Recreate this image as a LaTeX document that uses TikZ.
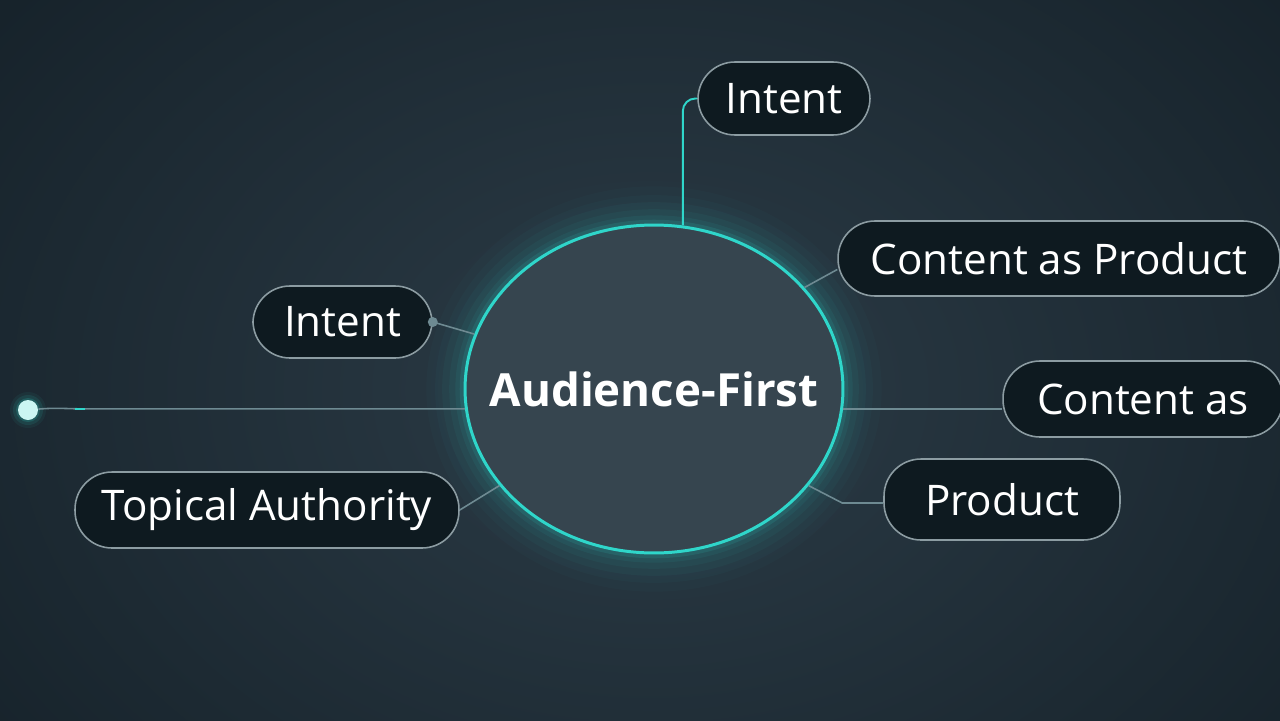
\documentclass[tikz,border=0pt]{standalone}
\usepackage{fontspec}
\setmainfont{Open Sans}
\usetikzlibrary{shapes.geometric}

\definecolor{bgdark}{HTML}{16222A}
\definecolor{bglight}{HTML}{2C3C47}
\definecolor{hubfill}{HTML}{36454F}
\definecolor{hubline}{HTML}{2FD6CA}
\definecolor{pillfill}{HTML}{0E1A20}
\definecolor{pillline}{HTML}{8C9CA2}
\definecolor{spokeline}{HTML}{6E8A92}

\tikzset{
  pill/.style={draw=pillline, line width=0.9pt, fill=pillfill, rounded corners=0.74cm,
    text=white, font=\fontsize{24}{28}\selectfont, inner sep=0pt},
  spoke/.style={draw=spokeline, line width=0.9pt},
}

\begin{document}
\begin{tikzpicture}[x=0.02cm, y=-0.02cm]
\useasboundingbox (0,0) rectangle (1280,720);
\fill [bgdark] (0,0) rectangle (1280,720);
\shade [inner color=bglight, outer color=bgdark] (-200,-250) rectangle (1500,1030);
% glow round the hub
\foreach \w/\o in {44/0.025, 34/0.03, 26/0.04, 18/0.05, 11/0.07, 6/0.12}
  \draw [hubline, opacity=\o, line width=\w pt] (654,389) ellipse (189 and 164);
\node (hub) [ellipse, draw=hubline, line width=1.7pt, fill=hubfill,
  minimum width=7.56cm, minimum height=6.56cm, inner sep=0pt] at (654,389) {};
\node (hubtext) [text=white, font=\fontsize{26}{30}\selectfont\bfseries] at (hub) {Audience-First};
% side boxes
\node (intentTop) [pill, minimum width=3.44cm, minimum height=1.46cm] at (784,98.5) {Intent};
\node (cap) [pill, minimum width=8.84cm, minimum height=1.5cm] at (1059,258.5) {Content as Product};
\node (intentLeft) [pill, minimum width=3.58cm, minimum height=1.44cm] at (342.5,322) {Intent};
\node (contentAs) [pill, minimum width=5.6cm, minimum height=1.52cm] at (1143,399) {Content as};
\node (topical) [pill, minimum width=7.68cm, minimum height=1.52cm] at (267,510) {Topical Authority};
\node (product) [pill, minimum width=4.72cm, minimum height=1.62cm] at (1002,499.5) {Product};
% glowing dot on the left
\foreach \r/\o in {18/0.06, 15/0.1, 12/0.18}
  \fill [hubline, opacity=\o] (28,410) circle (\r);
\node (spark) [circle, fill=white!75!hubline, minimum size=0.4cm, inner sep=0pt] at (28,410) {};
% connectors
\draw [hubline, line width=1.1pt, rounded corners=0.25cm] (hub.80) |- (intentTop.west);
\draw [spoke] (spark) to [out=5, in=180] ([xshift=-7.6cm]hub.186) -- (hub.186);
\draw [hubline, line width=1.4pt] ([xshift=-7.6cm]hub.186) -- ++(-10,0);
\draw [spoke] (intentLeft.east) -- (hub.163);
\fill [spokeline] (intentLeft.east) circle (5);
\draw [spoke] (topical.east) -- (hub.212);
\draw [spoke] (hub.34) -- ([yshift=-0.22cm]cap.west);
\draw [spoke] (hub.-6) -- (hub.-6 -| contentAs.west);
\draw [spoke] (hub.-32) -- ([xshift=-0.82cm,yshift=-0.07cm]product.west) -- ([yshift=-0.07cm]product.west);
\end{tikzpicture}
\end{document}
